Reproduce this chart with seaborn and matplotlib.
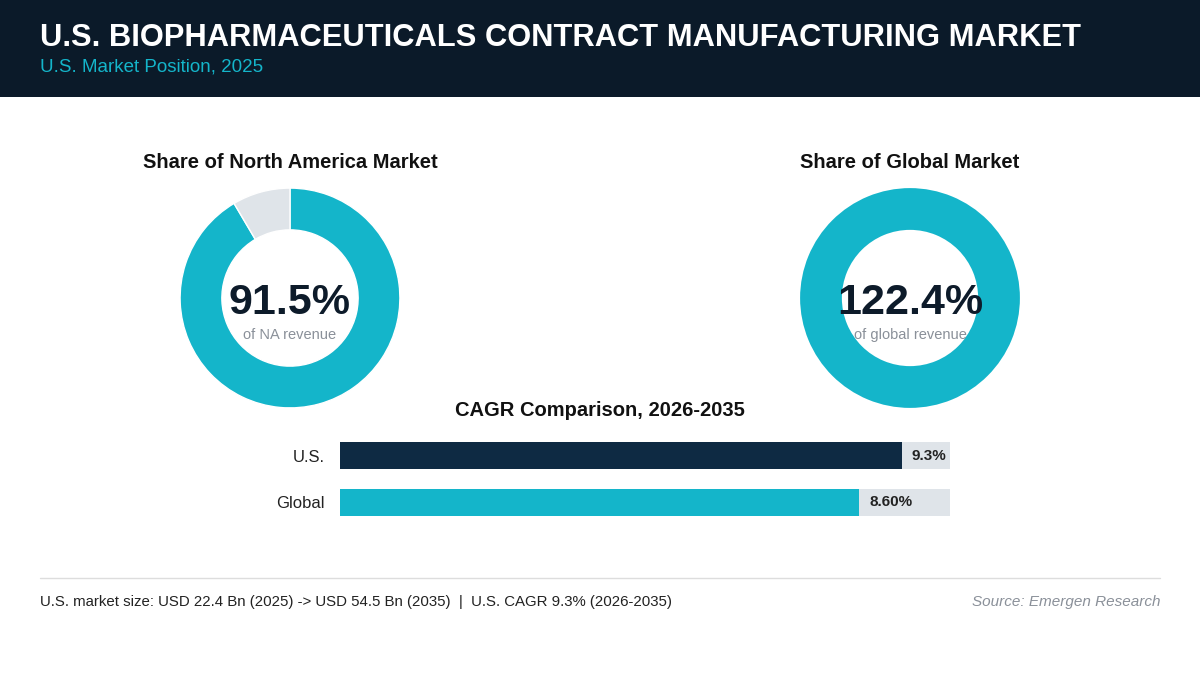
import pandas as pd
import matplotlib.pyplot as plt
import seaborn as sns

# Dados
title = 'U.S. BIOPHARMACEUTICALS CONTRACT MANUFACTURING MARKET'
subtitle = 'U.S. Market Position, 2025'
donut_titles = ['Share of North America Market', 'Share of Global Market']
donut_values = [91.5, 122.4]
donut_captions = ['of NA revenue', 'of global revenue']
cagr_regions = ['U.S.', 'Global']
cagr_values = [9.3, 8.6]
cagr_labels = ['9.3%', '8.60%']
footer_note = 'U.S. market size: USD 22.4 Bn (2025) -> USD 54.5 Bn (2035)  |  U.S. CAGR 9.3% (2026-2035)'
source = 'Source: Emergen Research'

TEAL = '#14b5ca'
NAVY = '#0e2a43'
TRACK = '#dfe4e9'
HEADER = '#0b1a29'

sns.set_theme(style='white')
plt.rcParams['font.family'] = ['Liberation Sans', 'DejaVu Sans']

W, H = 1200, 675
fig = plt.figure(figsize=(12, 6.75), dpi=100)
fig.patch.set_facecolor('white')


def px_axes(left, top, width, height):
    return fig.add_axes([left / W, 1 - (top + height) / H, width / W, height / H])


# Cabeçalho
hdr = px_axes(0, 0, W, 97)
hdr.set_facecolor(HEADER)
hdr.set_xticks([])
hdr.set_yticks([])
for s in hdr.spines.values():
    s.set_visible(False)
fig.text(40 / W, 1 - 38 / H, title, color='white', fontsize=22.2, fontweight='bold',
         va='center', ha='left')
fig.text(40 / W, 1 - 67 / H, subtitle, color=TEAL, fontsize=13.5, va='center', ha='left')

# Donuts
centers = [290, 910]
for cx, t, v, cap in zip(centers, donut_titles, donut_values, donut_captions):
    ax = px_axes(cx - 111, 298 - 111, 222, 222)
    parts = [min(v, 100), max(100 - v, 0)]
    cols = [TEAL, TRACK]
    shown = [p for p in parts if p > 0]
    shown_cols = [c for p, c in zip(parts, cols) if p > 0]
    ax.pie(shown, colors=shown_cols, startangle=90, counterclock=False, radius=1,
           wedgeprops=dict(width=0.38, edgecolor='white',
                           linewidth=1 if len(shown) > 1 else 0))
    ax.set_xlim(-1.01, 1.01)
    ax.set_ylim(-1.01, 1.01)
    ax.set_aspect('equal')
    fig.text(cx / W, 1 - 163 / H, t, ha='center', va='center', fontsize=14.5,
             fontweight='bold', color='#111111')
    fig.text(cx / W, 1 - 303 / H, f'{v}%', ha='center', va='center', fontsize=31,
             fontweight='bold', color='#0d1b2a')
    fig.text(cx / W, 1 - 335 / H, cap, ha='center', va='center', fontsize=10.5,
             color='#8a9099')

# Barras CAGR
fig.text(600 / W, 1 - 410 / H, 'CAGR Comparison, 2026-2035', ha='center', va='center',
         fontsize=14.5, fontweight='bold', color='#111111')
bx = px_axes(340, 432, 610, 94)
df = pd.DataFrame({'region': cagr_regions, 'cagr': cagr_values})
xmax = 10.1
sns.barplot(data=df, y='region', x=[xmax] * len(df), color=TRACK, width=0.56, ax=bx,
            orient='h', saturation=1, linewidth=0)
sns.barplot(data=df, y='region', x='cagr', hue='region', palette=[NAVY, TEAL], width=0.56,
            ax=bx, orient='h', saturation=1, legend=False, linewidth=0)
bx.set_xlim(0, xmax)
bx.set_ylim(1.5, -0.5)
bx.set_xlabel('')
bx.set_ylabel('')
bx.set_xticks([])
bx.tick_params(axis='y', length=0, pad=11, labelsize=12, labelcolor='#222222')
for s in bx.spines.values():
    s.set_visible(False)
for i, (val, lab) in enumerate(zip(cagr_values, cagr_labels)):
    bx.text(val + 0.16, i, lab, va='center', ha='left', fontsize=11, fontweight='bold',
            color='#222222')

# Rodapé
fig.add_artist(plt.Line2D([40 / W, 1160 / W], [1 - 578 / H, 1 - 578 / H],
                          color='#dddddd', linewidth=1))
fig.text(40 / W, 1 - 602 / H, footer_note, ha='left', va='center', fontsize=10.8,
         color='#222222')
fig.text(1160 / W, 1 - 602 / H, source, ha='right', va='center', fontsize=11,
         color='#8a9099', style='italic')

fig.savefig('out.png', dpi=100, facecolor='white')
